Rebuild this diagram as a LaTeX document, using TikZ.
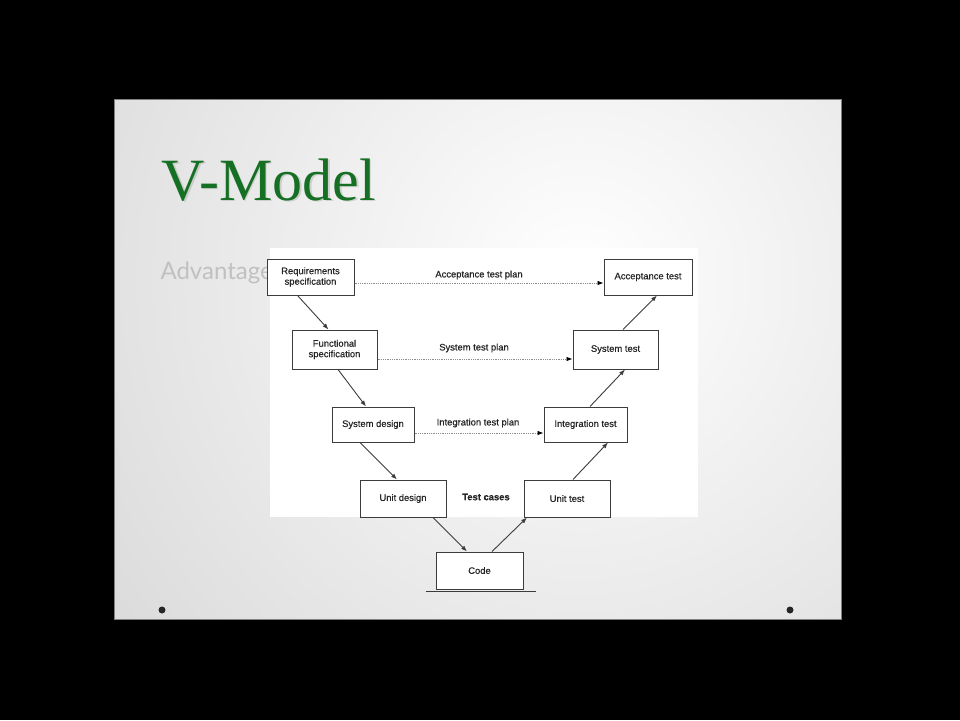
\documentclass[tikz,border=0pt]{standalone}
\usepackage{fontspec}
\setmainfont{Liberation Serif}
\newfontfamily\boxfont[FakeBold=0.6]{Liberation Sans}
\newfontfamily\slidefont{Lato}
\usepackage{tikz}
\definecolor{slidegray}{RGB}{198,198,198}
\definecolor{titlegreen}{RGB}{22,112,36}
\definecolor{boxline}{RGB}{60,60,60}
\definecolor{planline}{RGB}{140,140,140}
\definecolor{faded}{RGB}{192,192,192}
\usetikzlibrary{arrows.meta}

\begin{document}
\begin{tikzpicture}[x=1pt,y=-1pt,
        stage/.style={draw=boxline,line width=1pt,fill=white,inner sep=1pt,align=center,
            text=black!85,font=\boxfont\fontsize{9.4}{10.5}\selectfont},
        flow/.style={draw=boxline,line width=0.9pt,-{Latex[length=6pt,width=4.5pt]}},
        plan/.style={draw=planline,line width=0.8pt,densely dotted,-{Latex[length=6pt,width=4.5pt,color=black]}},
        caption/.style={text=black!85,font=\boxfont\fontsize{9.4}{10.5}\selectfont}]
        \useasboundingbox (0,0) rectangle (960,720);
        \fill[black] (0,0) rectangle (960,720);

        \begin{scope}
            \clip (114,99) rectangle (841,619);
            \fill[slidegray] (114,99) rectangle (841,619);
            \shade[inner color=white,outer color=slidegray] (580,280) circle (920);
        \end{scope}
        \draw[gray] (114,99) rectangle (841,619);

        \fill[black!85] (162,610) circle (3.5);
        \fill[black!85] (790,610) circle (3.5);

        \node[anchor=base west,text=black!40,opacity=0.35,font=\fontsize{60}{60}\selectfont] at (159.5,201.5) {V-Model};
        \node[anchor=base west,text=titlegreen,font=\fontsize{60}{60}\selectfont] (title) at (158,200) {V-Model};
        \node[anchor=base west,text=faded,font=\slidefont\fontsize{24}{24}\selectfont] (adv) at (157,279) {Advantages};

        \fill[white] (270,248) rectangle (698,517);

        \node[stage,minimum width=87,minimum height=36] (req) at (310.5,277) {Requirements\\specification};
        \node[stage,minimum width=88,minimum height=36] (acc) at (648,277) {Acceptance test};
        \node[stage,minimum width=85,minimum height=39] (func) at (334.5,349.5) {Functional\\specification};
        \node[stage,minimum width=85,minimum height=39] (systest) at (615.5,349.5) {System test};
        \node[stage,minimum width=82,minimum height=35] (sysdes) at (373,424.5) {System design};
        \node[stage,minimum width=83,minimum height=35] (integ) at (585.5,424.5) {Integration test};
        \node[stage,minimum width=86,minimum height=37] (unitdes) at (403,498.5) {Unit design};
        \node[stage,minimum width=86,minimum height=37] (unittest) at (567,498.5) {Unit test};
        \node[stage,minimum width=87,minimum height=37] (code) at (479.5,570.5) {Code};
        \draw[boxline,line width=1pt] ([xshift=-10pt,yshift=-2pt]code.south west) -- ([xshift=12pt,yshift=-2pt]code.south east);

        \draw[flow] ([xshift=-13pt]req.south) -- ([xshift=-6pt]func.north);
        \draw[flow] ([xshift=3.5pt]func.south) -- ([xshift=-7pt]sysdes.north);
        \draw[flow] ([xshift=-13pt]sysdes.south) -- ([xshift=-6pt]unitdes.north);
        \draw[flow] ([xshift=30pt]unitdes.south) -- ([xshift=-12.5pt]code.north);
        \draw[flow] ([xshift=12.5pt]code.north) -- ([xshift=-40pt]unittest.south);
        \draw[flow] ([xshift=6pt]unittest.north) -- ([xshift=22.5pt]integ.south);
        \draw[flow] ([xshift=4.5pt]integ.north) -- ([xshift=9.5pt]systest.south);
        \draw[flow] ([xshift=7.5pt]systest.north) -- ([xshift=9pt]acc.south);

        \draw[plan] ([yshift=-6pt]req.east) -- ([yshift=-6pt]acc.west);
        \draw[plan] ([yshift=-9.5pt]func.east) -- ([yshift=-9.5pt]systest.west);
        \draw[plan] ([yshift=-8.5pt]sysdes.east) -- ([yshift=-8.5pt]integ.west);

        \node[caption] (accplan) at (479,275) {Acceptance test plan};
        \node[caption] (sysplan) at (474,348) {System test plan};
        \node[caption] (intplan) at (478,423) {Integration test plan};
        \node[caption,font=\boxfont\bfseries\fontsize{9.4}{10.5}\selectfont] (cases) at (486,497) {Test cases};
    \end{tikzpicture}
\end{document}
